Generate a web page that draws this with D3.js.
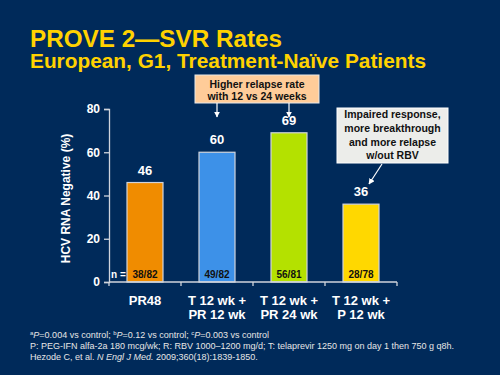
<!DOCTYPE html>
<html>
<head>
<meta charset="utf-8">
<script src="https://cdn.jsdelivr.net/npm/d3@7"></script>
<style>
  body { margin: 0; background: #002a5a; }
  svg { display: block; font-family: Arial, "Liberation Sans", sans-serif; }
</style>
</head>
<body>
<div id="chart"></div>
<script>
// Data
const groups = ["PR48", "T12PR12", "T12PR24", "T12P12"];
const groupLabels = [["PR48"], ["T 12 wk +", "PR 12 wk"], ["T 12 wk +", "PR 24 wk"], ["T 12 wk +", "P 12 wk"]];
const svrRates = [46, 60, 69, 36];
const nLabels = ["38/82", "49/82", "56/81", "28/78"];
const barColors = ["#f08c00", "#3d91e8", "#b4e100", "#ffd800"];
const yTicks = [0, 20, 40, 60, 80];

const width = 500, height = 375;
const margin = { top: 109, left: 109, right: 103, bottom: 93 };

const svg = d3.select("#chart").append("svg")
  .attr("width", width)
  .attr("height", height);

svg.append("rect").attr("width", width).attr("height", height).attr("fill", "#002a5a");

// Titles
svg.append("text")
  .attr("x", 30).attr("y", 47)
  .attr("textLength", 252).attr("lengthAdjust", "spacingAndGlyphs")
  .style("font-size", "23px").style("font-weight", "bold").style("fill", "#ffd200")
  .text("PROVE 2\u2014SVR Rates");
svg.append("text")
  .attr("x", 30).attr("y", 68)
  .attr("textLength", 396).attr("lengthAdjust", "spacingAndGlyphs")
  .style("font-size", "21px").style("font-weight", "bold").style("fill", "#ffd200")
  .text("European, G1, Treatment-Na\u00efve Patients");

// Scales
const x = d3.scaleBand().domain(groups).range([margin.left, width - margin.right]).paddingInner(0).paddingOuter(0);
const y = d3.scaleLinear().domain([0, 80]).range([height - margin.bottom, margin.top]);
const barW = x.bandwidth() * 0.5;

// Bars
svg.selectAll("rect.bar")
  .data(groups)
  .join("rect")
  .attr("class", "bar")
  .attr("x", d => x(d) + (x.bandwidth() - barW) / 2)
  .attr("y", (d, i) => y(svrRates[i]))
  .attr("width", barW)
  .attr("height", (d, i) => y(0) - y(svrRates[i]))
  .attr("fill", (d, i) => barColors[i])
  .attr("stroke", "#d0d4dc")
  .attr("stroke-width", 1.2);

// Value labels
svg.selectAll("text.val")
  .data(groups)
  .join("text")
  .attr("class", "val")
  .attr("x", d => x(d) + x.bandwidth() / 2)
  .attr("y", (d, i) => y(svrRates[i]) - 8)
  .attr("text-anchor", "middle")
  .style("font-size", "13px").style("font-weight", "bold").style("fill", "#ffffff")
  .text((d, i) => svrRates[i]);

// n labels
svg.selectAll("text.n")
  .data(groups)
  .join("text")
  .attr("class", "n")
  .attr("x", d => x(d) + x.bandwidth() / 2)
  .attr("y", y(0) - 4)
  .attr("text-anchor", "middle")
  .style("font-size", "10px").style("font-weight", "bold").style("fill", "#111111")
  .text((d, i) => nLabels[i]);
svg.append("text")
  .attr("x", x(groups[0]) + 2).attr("y", y(0) - 4)
  .style("font-size", "10px").style("font-weight", "bold").style("fill", "#ffffff")
  .text("n =");

// Y axis
const yAxis = svg.append("g")
  .attr("transform", `translate(${margin.left},0)`)
  .call(d3.axisLeft(y).tickValues(yTicks).tickSize(5).tickPadding(4));
yAxis.selectAll("path, line").attr("stroke", "#d0d4dc").attr("stroke-width", 1.3);
yAxis.selectAll("text").style("font-size", "12px").style("font-weight", "bold").style("fill", "#ffffff");

// X axis: ticks at band boundaries
const xAxis = svg.append("g").attr("transform", `translate(0,${y(0)})`);
xAxis.append("line")
  .attr("x1", margin.left).attr("x2", width - margin.right)
  .attr("stroke", "#d0d4dc").attr("stroke-width", 1.3);
xAxis.selectAll("line.tick")
  .data(groups.map(d => x(d)).concat([x(groups[groups.length - 1]) + x.bandwidth()]))
  .join("line")
  .attr("class", "tick")
  .attr("x1", d => d).attr("x2", d => d)
  .attr("y1", 0).attr("y2", 4)
  .attr("stroke", "#d0d4dc").attr("stroke-width", 1.3);

// X category labels
groups.forEach((g, i) => {
  const t = svg.append("text")
    .attr("x", x(g) + x.bandwidth() / 2)
    .attr("y", 305)
    .attr("text-anchor", "middle")
    .style("font-size", "13px").style("font-weight", "bold").style("fill", "#ffffff");
  groupLabels[i].forEach((line, j) => {
    t.append("tspan").attr("x", x(g) + x.bandwidth() / 2).attr("dy", j === 0 ? 0 : 14).text(line);
  });
});

// Y axis title
svg.append("text")
  .attr("transform", `translate(70,${(y(0) + y(80)) / 2 + 3}) rotate(-90)`)
  .attr("text-anchor", "middle")
  .style("font-size", "12px").style("font-weight", "bold").style("fill", "#ffffff")
  .text("HCV RNA Negative (%)");

// Arrow marker
svg.append("defs").append("marker")
  .attr("id", "arr")
  .attr("viewBox", "0 0 10 10")
  .attr("refX", 9).attr("refY", 5)
  .attr("markerWidth", 5).attr("markerHeight", 5)
  .attr("orient", "auto")
  .append("path").attr("d", "M0,0L10,5L0,10z").attr("fill", "#ffffff");

// Callout 1
svg.append("rect")
  .attr("x", 195).attr("y", 75).attr("width", 124).attr("height", 28)
  .attr("fill", "#ffcc99").attr("stroke", "#e8e8e8").attr("stroke-width", 1);
[["Higher relapse rate", 88], ["with 12 vs 24 weeks", 100]].forEach(([s, yy]) => {
  svg.append("text").attr("x", 257).attr("y", yy).attr("text-anchor", "middle")
    .style("font-size", "10.5px").style("font-weight", "bold").style("fill", "#111111").text(s);
});
[groups[1], groups[2]].forEach(g => {
  const cx = x(g) + x.bandwidth() / 2;
  svg.append("line")
    .attr("x1", cx).attr("x2", cx).attr("y1", 103).attr("y2", 117)
    .attr("stroke", "#ffffff").attr("stroke-width", 1.2).attr("marker-end", "url(#arr)");
});

// Callout 2
svg.append("rect")
  .attr("x", 337).attr("y", 108).attr("width", 111).attr("height", 55)
  .attr("fill", "#ecedea").attr("stroke", "#ffffff").attr("stroke-width", 1);
[["Impaired response,", 118], ["more breakthrough", 132], ["and more relapse", 145.5], ["w/out RBV", 159]].forEach(([s, yy]) => {
  svg.append("text").attr("x", 392.5).attr("y", yy).attr("text-anchor", "middle")
    .style("font-size", "10.5px").style("font-weight", "bold").style("fill", "#111111").text(s);
});
svg.append("line")
  .attr("x1", 382).attr("y1", 164).attr("x2", 369).attr("y2", 184)
  .attr("stroke", "#ffffff").attr("stroke-width", 1.2).attr("marker-end", "url(#arr)");

// Footnotes
const foot = svg.append("g").style("font-size", "9px").style("fill", "#e6e6e6");
const f1 = foot.append("text").attr("x", 30).attr("y", 338);
let wasSup = false;
[["a", true, false], ["P", false, true], ["=0.004 vs control; ", false, false],
 ["b", true, false], ["P", false, true], ["=0.12 vs control; ", false, false],
 ["c", true, false], ["P", false, true], ["=0.003 vs control", false, false]].forEach(([s, sup, it]) => {
  const ts = f1.append("tspan").text(s);
  if (sup) ts.style("font-size", "6px").attr("dy", -3);
  else if (wasSup) ts.attr("dy", 3);
  if (it) ts.style("font-style", "italic");
  wasSup = sup;
});
foot.append("text").attr("x", 30).attr("y", 349)
  .text("P: PEG-IFN alfa-2a 180 mcg/wk; R: RBV 1000\u20131200 mg/d; T: telaprevir 1250 mg on day 1 then 750 g q8h.");
const f3 = foot.append("text").attr("x", 30).attr("y", 360);
f3.append("tspan").text("Hezode C, et al. ");
f3.append("tspan").style("font-style", "italic").text("N Engl J Med.");
f3.append("tspan").text(" 2009;360(18):1839-1850.");
</script>
</body>
</html>
